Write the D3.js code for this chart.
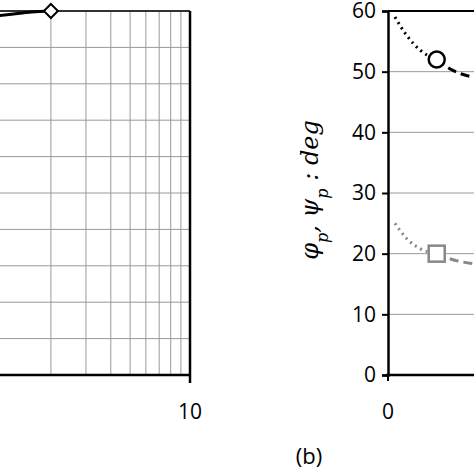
<!DOCTYPE html>
<html><head><meta charset="utf-8">
<script src="https://cdn.jsdelivr.net/npm/d3@7"></script>
<style>body{margin:0;background:#fff}text{font-family:"Open Sans",sans-serif}</style>
</head><body><svg id="c" width="474" height="474"></svg>
<script>
// left panel (a): log x, value near top
var leftX = [1, 1.3, 1.6, 2];
var leftY = [0.985, 0.992, 0.997, 1.0];
var leftXTicks = [2, 3, 4, 5, 6, 7, 8, 9, 10];
// right panel (b)
var phiDotX = [0.3, 0.8, 1.4, 2.1], phiDotY = [59, 56, 53.5, 52];
var phiDashX = [2.1, 2.8, 3.8], phiDashY = [52, 50.2, 49];
var psiDotX = [0.3, 0.8, 1.4, 2.1], psiDotY = [25, 22.5, 20.8, 20];
var psiDashX = [2.1, 2.8, 3.8], psiDashY = [20, 19, 18.3];
var rightYTicks = [0, 10, 20, 30, 40, 50, 60];

var svg = d3.select("#c");
var plotTop = 11, plotBottom = 375;

// ---- left panel
var xl = d3.scaleLog().domain([1, 10]).range([-9, 190]);
var yl = d3.scaleLinear().domain([0, 1]).range([plotBottom, plotTop]);
var gl = svg.append("g");
gl.selectAll(".vg").data(leftXTicks).enter().append("line")
  .attr("x1", d => xl(d)).attr("x2", d => xl(d)).attr("y1", plotTop).attr("y2", plotBottom)
  .attr("stroke", "#999").attr("stroke-width", 1);
gl.selectAll(".hg").data(d3.range(0, 1.01, 0.1)).enter().append("line")
  .attr("x1", 0).attr("x2", 190).attr("y1", d => yl(d)).attr("y2", d => yl(d))
  .attr("stroke", "#999").attr("stroke-width", 1);
gl.append("line").attr("x1", 0).attr("x2", 191).attr("y1", plotBottom).attr("y2", plotBottom).attr("stroke", "#000").attr("stroke-width", 2.5);
gl.append("line").attr("x1", 190).attr("x2", 190).attr("y1", plotTop).attr("y2", plotBottom + 8).attr("stroke", "#000").attr("stroke-width", 2.5);
gl.append("line").attr("x1", 0).attr("x2", 190).attr("y1", plotTop).attr("y2", plotTop).attr("stroke", "#000").attr("stroke-width", 1.5);
gl.append("text").attr("x", xl(10)).attr("y", 419).attr("text-anchor", "middle").style("font-size", "21px").text("10");
gl.append("path").datum(leftX.map((d, i) => [d, leftY[i]]))
  .attr("d", d3.line().x(d => xl(d[0])).y(d => yl(d[1])).curve(d3.curveMonotoneX))
  .attr("fill", "none").attr("stroke", "#000").attr("stroke-width", 3);
var dx = xl(2), dy = yl(1);
gl.append("path").attr("d", `M${dx},${dy - 7}L${dx + 7},${dy}L${dx},${dy + 7}L${dx - 7},${dy}Z`)
  .attr("fill", "#fff").attr("stroke", "#000").attr("stroke-width", 2);

// ---- right panel
var xr = d3.scaleLinear().domain([0, 10]).range([388, 620]);
var yr = d3.scaleLinear().domain([0, 60]).range([plotBottom, plotTop]);
var gr = svg.append("g");
gr.selectAll(".hg").data(rightYTicks.slice(1, -1)).enter().append("line")
  .attr("x1", 388).attr("x2", 474).attr("y1", d => yr(d)).attr("y2", d => yr(d))
  .attr("stroke", "#999").attr("stroke-width", 1);
gr.append("line").attr("x1", 388).attr("x2", 474).attr("y1", plotTop).attr("y2", plotTop).attr("stroke", "#000").attr("stroke-width", 2);
gr.append("g").attr("transform", "translate(388,0)")
  .call(d3.axisLeft(yr).tickValues(rightYTicks).tickSize(6).tickPadding(6))
  .call(g => { g.select(".domain").attr("stroke-width", 2.5); g.selectAll("line").attr("stroke-width", 2);
    g.selectAll("text").style("font-size", "21px").attr("font-family", "Open Sans").attr("fill", "#000"); });
gr.append("line").attr("x1", 386).attr("x2", 474).attr("y1", plotBottom).attr("y2", plotBottom).attr("stroke", "#000").attr("stroke-width", 2.5);
gr.append("line").attr("x1", 388).attr("x2", 388).attr("y1", plotBottom).attr("y2", plotBottom + 6).attr("stroke", "#000").attr("stroke-width", 2);
gr.append("text").attr("x", xr(0)).attr("y", 419).attr("text-anchor", "middle").style("font-size", "21px").text("0");

var line = d3.line().x(d => xr(d[0])).y(d => yr(d[1])).curve(d3.curveMonotoneX);
function series(xs, ys, color, dash) {
  gr.append("path").datum(xs.map((d, i) => [d, ys[i]])).attr("d", line)
    .attr("fill", "none").attr("stroke", color).attr("stroke-width", 3).attr("stroke-dasharray", dash);
}
series(phiDotX, phiDotY, "#000", "2,4");
series(phiDashX, phiDashY, "#000", "9,5");
series(psiDotX, psiDotY, "#888", "2,4");
series(psiDashX, psiDashY, "#888", "9,5");
gr.append("circle").attr("cx", xr(phiDotX[3])).attr("cy", yr(phiDotY[3])).attr("r", 8)
  .attr("fill", "#fff").attr("stroke", "#000").attr("stroke-width", 2.5);
gr.append("rect").attr("x", xr(psiDotX[3]) - 8).attr("y", yr(psiDotY[3]) - 8).attr("width", 16).attr("height", 16)
  .attr("fill", "#fff").attr("stroke", "#888").attr("stroke-width", 2.5);

svg.append("text").attr("transform", "translate(318,190) rotate(-90)").attr("text-anchor", "middle")
  .style("font-family", "DejaVu Serif").style("font-style", "italic").style("font-size", "24px")
  .html('φ<tspan baseline-shift="sub" style="font-size:16px">p</tspan>, ψ<tspan baseline-shift="sub" style="font-size:16px">p</tspan> : deg');
svg.append("text").attr("x", 309).attr("y", 464).attr("text-anchor", "middle").style("font-size", "22px").text("(b)");
</script></body></html>
